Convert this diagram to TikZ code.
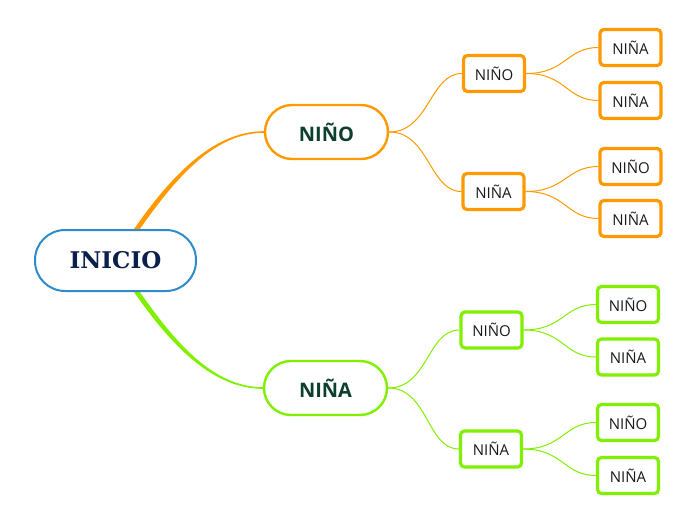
\documentclass[tikz,border=0pt]{standalone}
\usepackage{fontspec}
\setmainfont{Open Sans}
\newfontfamily\serifbold{DejaVu Serif}
\usetikzlibrary{backgrounds,calc}
\definecolor{naranja}{HTML}{FF9900}
\definecolor{verde}{HTML}{80F000}
\definecolor{azul}{HTML}{2E8BCC}
\definecolor{marino}{HTML}{0B1F4B}
\definecolor{pino}{HTML}{0D3F2F}
\definecolor{tinta}{HTML}{1A1A1A}

\begin{document}
\begin{tikzpicture}[x=1pt,y=-1pt,
		raiz/.style={draw=azul,line width=2pt,fill=white,rounded corners=30pt,
		minimum width=161pt,minimum height=61pt,inner sep=0pt,
		font=\serifbold\bfseries\fontsize{23}{23}\selectfont,text=marino},
		rama/.style={draw=#1,line width=2.4pt,fill=white,rounded corners=27pt,
		minimum width=123pt,minimum height=54pt,inner sep=0pt,
		font=\bfseries\fontsize{20}{20}\selectfont,text=pino},
		hoja/.style={draw=#1,line width=3.2pt,fill=white,rounded corners=4pt,
		minimum width=61pt,minimum height=36pt,inner sep=0pt,
		font=\fontsize{15}{15}\selectfont,text=tinta},
		enlace/.style={draw=#1,line width=1pt}]
		\useasboundingbox (0,0) rectangle (696,520);
		% centro y ramas principales
		\node[raiz] (inicio) at (115.5,260.5) {INICIO};
		\node[rama=naranja] (ninoA) at (326.5,132) {NIÑO};
		\node[rama=verde] (ninaA) at (325.5,388) {NIÑA};
		% segundo nivel
		\node[hoja=naranja] (ninoA1) at (494,73.5) {NIÑO};
		\node[hoja=naranja] (ninaA1) at (493.5,191.5) {NIÑA};
		\node[hoja=verde] (ninoB1) at (491.5,330) {NIÑO};
		\node[hoja=verde] (ninaB1) at (491,449) {NIÑA};
		% hojas
		\node[hoja=naranja] (h1) at (630.5,47.5) {NIÑA};
		\node[hoja=naranja] (h2) at (630.5,100.5) {NIÑA};
		\node[hoja=naranja] (h3) at (630.5,166.5) {NIÑO};
		\node[hoja=naranja] (h4) at (630.5,218.5) {NIÑA};
		\node[hoja=verde] (h5) at (628,304.5) {NIÑO};
		\node[hoja=verde] (h6) at (628,357) {NIÑA};
		\node[hoja=verde] (h7) at (628,422.5) {NIÑO};
		\node[hoja=verde] (h8) at (628,475.5) {NIÑA};
		\begin{scope}[on background layer]
			\fill[naranja] ($(inicio.center)+(-2.5,0)$) .. controls +(37,-57) and +(-64,0) .. ($(ninoA.west)+(0,-0.8)$)
			-- ($(ninoA.west)+(0,0.8)$) .. controls +(-62,0) and +(39,-56) .. ($(inicio.center)+(2.5,0)$) -- cycle;
			\fill[verde] ($(inicio.center)+(-2.5,0)$) .. controls +(37,57) and +(-64,0) .. ($(ninaA.west)+(0,0.8)$)
			-- ($(ninaA.west)+(0,-0.8)$) .. controls +(-62,0) and +(39,56) .. ($(inicio.center)+(2.5,0)$) -- cycle;
			\foreach \a/\b in {ninoA/ninoA1,ninoA/ninaA1,ninoA1/h1,ninoA1/h2,ninaA1/h3,ninaA1/h4}
			\draw[enlace=naranja] (\a.east) .. controls +(40,0) and +(-32,0) .. (\b.west);
			\foreach \a/\b in {ninaA/ninoB1,ninaA/ninaB1,ninoB1/h5,ninoB1/h6,ninaB1/h7,ninaB1/h8}
			\draw[enlace=verde] (\a.east) .. controls +(40,0) and +(-32,0) .. (\b.west);
		\end{scope}
	\end{tikzpicture}
\end{document}
